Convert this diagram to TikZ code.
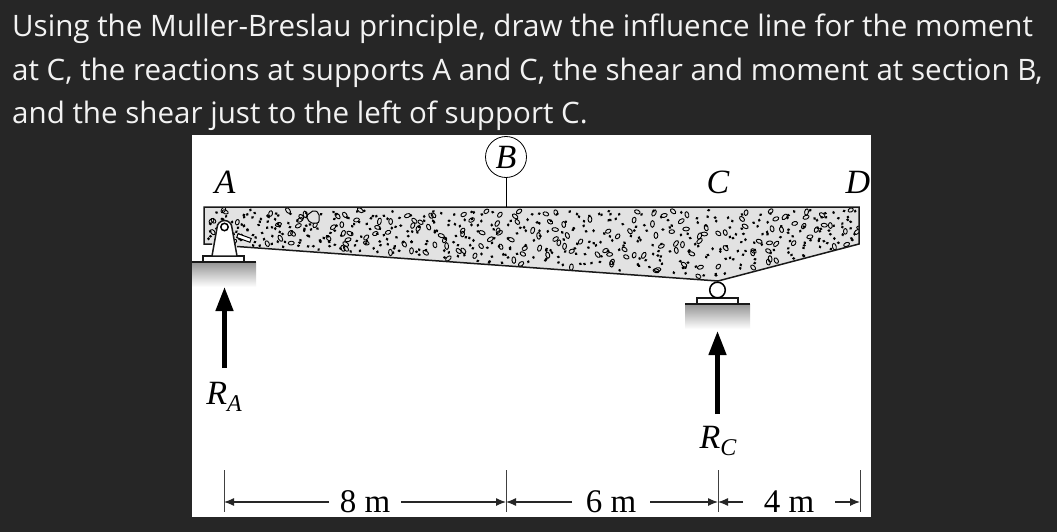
\documentclass[tikz,border=0pt]{standalone}
\usepackage{fontspec}
\setmainfont{Liberation Serif}
\newfontfamily\headfont{Open Sans}
\usetikzlibrary{arrows.meta}
\usetikzlibrary{calc}
\definecolor{pagedark}{HTML}{262626}
\definecolor{headwhite}{HTML}{F2F2F2}
\definecolor{concrete}{HTML}{E2E2E2}
\tikzset{
	headline/.style={anchor=base west,inner sep=0pt,text=headwhite,font=\headfont\fontsize{29.55}{34}\selectfont},
	letterlabel/.style={inner sep=0pt,font=\fontsize{34}{36}\selectfont\itshape},
	spanlabel/.style={inner sep=0pt,font=\fontsize{33}{36}\selectfont},
	ground/.style={top color=black!42,bottom color=white,draw=none},
	reaction/.style={line width=4.5pt,-{Triangle[length=24pt,width=17pt]}},
	dimline/.style={line width=1.2pt,black!85,-{Latex[length=10pt,width=8pt]}},
	tickline/.style={line width=0.9pt,black!75},
	outline/.style={draw=black!90,line width=1.5pt}
}
\begin{document}
\begin{tikzpicture}[x=1pt,y=-1pt]
	\useasboundingbox (0,0) rectangle (1057,532);
	\fill[pagedark] (0,0) rectangle (1057,532);
	\node[headline] (lineone) at (12,37) {Using the Muller-Breslau principle, draw the influence line for the moment};
	\node[headline] (linetwo) at (12,81) {at C, the reactions at supports A and C, the shear and moment at section B,};
	\node[headline] (linethree) at (12,124) {and the shear just to the left of support C.};
	\fill[white] (192,135) rectangle (871,517);

	\begin{scope}
		\clip (204,207) -- (859,207) -- (859,244) -- (718,281) -- (237,246.5) -- (204,244) -- cycle;
		\fill[concrete] (204,207) rectangle (859,281);
		\pgfmathsetseed{23}
		\foreach \column in {0,...,87} {
			\foreach \row in {0,...,6} {
				\pgfmathsetmacro{\xpos}{206+7.4*(\column+2*rnd-0.5)}
				\pgfmathsetmacro{\bottom}{\xpos<718 ? 242+(\xpos-204)*0.072 : 279-(\xpos-718)*0.262}
				\pgfmathsetmacro{\ypos}{210+(\row+rnd)/7*(\bottom-210)}
				\pgfmathsetmacro{\kind}{rnd}
				\pgfmathsetmacro{\turn}{180*rnd}
				\ifdim\kind pt<0.7pt
					\fill[black,rotate around={\turn:(\xpos,\ypos)}] (\xpos,\ypos) ellipse (1.7 and 1.4);
				\else
					\draw[black,line width=0.9pt,rotate around={\turn:(\xpos,\ypos)}] (\xpos,\ypos) ellipse ({1.2+2.2*\kind} and 1.9);
				\fi
			}
		}
	\end{scope}
	\draw[black,line width=1pt,fill=concrete,rounded corners=2pt] (306,216) -- (314,210) -- (319,213) -- (319,223) -- (310,223) -- cycle;
	\draw[black,line width=1pt,fill=white,rotate around={-20:(244,238)}] (237,236) rectangle (251,240);
	\draw[outline] (212,244) -- (204,244) -- (204,207) -- (859,207) -- (859,244) -- (718,281) -- (237,246.5);

	\fill[ground] (192,262) rectangle (256,287);
	\draw[outline] (192,262) -- (256,262);
	\draw[outline,fill=white] (203,256) rectangle (244,262);
	\draw[outline,fill=white] (212,256) -- (217,228) arc (180:360:7.5) -- (237,256) -- cycle;
	\draw[line width=1.5pt,fill=white] (224.5,227) circle (3.7);

	\fill[ground] (685,304) rectangle (750,329);
	\draw[outline] (685,304) -- (750,304);
	\draw[outline,fill=white] (697,298) rectangle (738,304);
	\draw[line width=1.5pt,fill=white] (717.5,290) circle (7.8);

	\node[draw,circle,line width=0.8pt,minimum size=41pt,inner sep=0pt,letterlabel] (circleB) at (506,157) {B};
	\coordinate (topB) at (506,207);
	\draw[line width=0.8pt] (circleB) -- (topB);

	\foreach \letter/\xpos in {A/225,C/718,D/858} {
		\node[letterlabel] (label\letter) at (\xpos,182) {\letter};
	}

	\coordinate (tailA) at (224.5,368);
	\coordinate (tipA) at (224.5,287);
	\coordinate (tailC) at (717.5,414);
	\coordinate (tipC) at (717.5,331);
	\draw[reaction] (tailA) -- (tipA);
	\draw[reaction] (tailC) -- (tipC);
	\node[letterlabel] (labelRA) at (224,397) {R\raisebox{-7pt}{\fontsize{24}{26}\selectfont A}};
	\node[letterlabel] (labelRC) at (718,441) {R\raisebox{-7pt}{\fontsize{24}{26}\selectfont C}};

	\foreach \letter/\xpos in {a/224,b/506,c/718,d/860} {
		\coordinate (top\letter) at (\xpos,470);
		\coordinate (foot\letter) at (\xpos,512);
		\coordinate (dim\letter) at (\xpos,502);
		\draw[tickline] (top\letter) -- (foot\letter);
	}
	\foreach \from/\to/\xpos/\size/\gap in {a/b/365/8/36,b/c/611/6/39,c/d/789/4/46} {
		\node[spanlabel] (span\size) at (\xpos,502) {\size\ m};
		\coordinate (left\size) at ($(span\size)+(-\gap,0)$);
		\coordinate (right\size) at ($(span\size)+(\gap,0)$);
		\draw[dimline] (left\size) -- (dim\from);
		\draw[dimline] (right\size) -- (dim\to);
	}
\end{tikzpicture}
\end{document}
